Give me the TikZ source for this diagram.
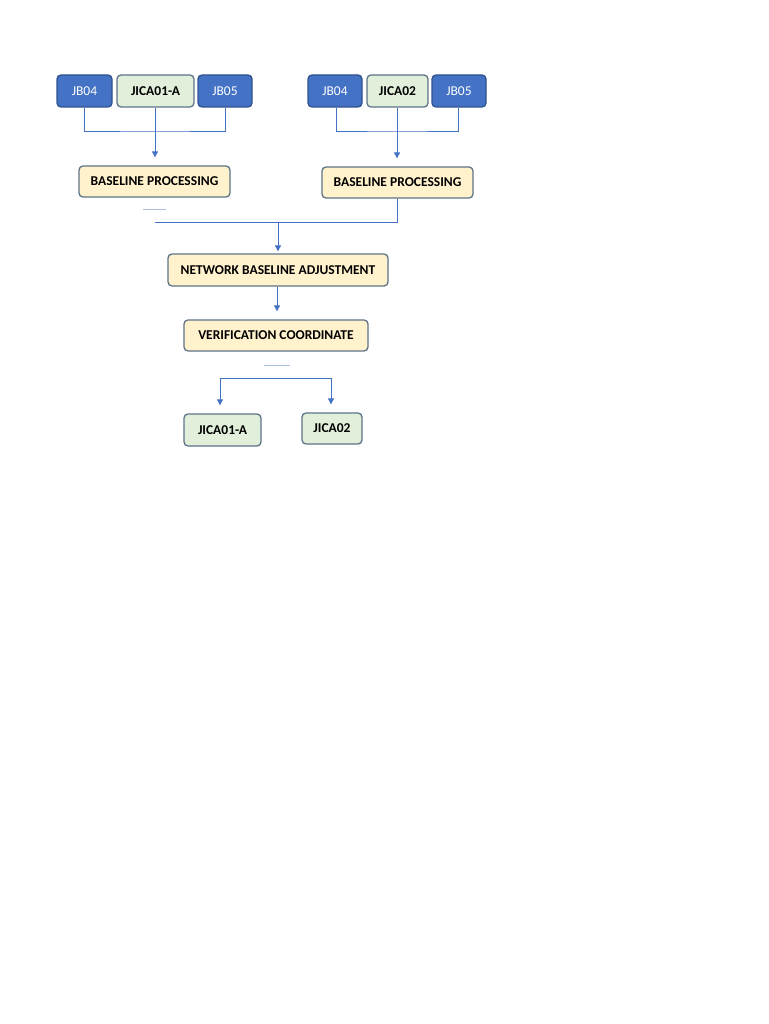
\documentclass[tikz,border=0pt]{standalone}
\usepackage{fontspec}
\setmainfont{Carlito}
\usetikzlibrary{arrows.meta}
\definecolor{bluefill}{HTML}{4472C4}
\definecolor{blueedge}{HTML}{2F528F}
\definecolor{greenfill}{HTML}{E2EFDA}
\definecolor{yellowfill}{HTML}{FFF2CC}
\definecolor{grayedge}{HTML}{5E7489}
\definecolor{linkc}{HTML}{4472C4}
\tikzset{
  box/.style={rectangle, rounded corners=4pt, line width=1.3pt, inner sep=0pt, font=\fontsize{13.5}{15}\selectfont},
  bluebox/.style={box, fill=bluefill, draw=blueedge, text=white, minimum height=32pt},
  greenbox/.style={box, fill=greenfill, draw=grayedge, font=\fontsize{13.5}{15}\selectfont\bfseries, minimum height=32pt},
  yellowbox/.style={box, fill=yellowfill, draw=grayedge, font=\fontsize{13.5}{15}\selectfont\bfseries, minimum height=31pt},
  link/.style={draw=linkc, line width=0.9pt},
  arr/.style={link, -{Triangle[width=6pt,length=6pt]}},
  faint/.style={draw=linkc!45, line width=0.9pt}
}
\begin{document}
\begin{tikzpicture}[x=1pt,y=-1pt]
\useasboundingbox (0,0) rectangle (768,1024);
\fill[white] (0,0) rectangle (768,1024);
% top-left group
\node[bluebox, minimum width=55pt] (lj4) at (84.5,91) {JB04};
\node[greenbox, minimum width=77pt] (lja) at (155.5,91) {JICA01-A};
\node[bluebox, minimum width=54pt] (lj5) at (225,91) {JB05};
% top-right group
\node[bluebox, minimum width=54pt] (rj4) at (335,91) {JB04};
\node[greenbox, minimum width=61pt] (rja) at (397.5,91) {JICA02};
\node[bluebox, minimum width=54pt] (rj5) at (459,91) {JB05};
% baseline processing
\node[yellowbox, minimum width=151pt] (bpl) at (154.5,181.5) {BASELINE PROCESSING};
\node[yellowbox, minimum width=151pt] (bpr) at (397.5,182.5) {BASELINE PROCESSING};
% network
\node[yellowbox, minimum width=220pt, minimum height=32pt] (nba) at (278,270) {NETWORK BASELINE ADJUSTMENT};
\node[yellowbox, minimum width=184pt] (vc) at (276,335.5) {VERIFICATION COORDINATE};
% outputs
\node[greenbox, minimum width=77pt] (o1) at (222.5,430) {JICA01-A};
\node[greenbox, minimum width=60pt, minimum height=31pt] (o2) at (332,428.5) {JICA02};
% coordinates
\coordinate (lbar) at (155,131);
\coordinate (rbar) at (397,131);
\coordinate (mid) at (278,222);
% connectors top-left
\draw[link] (lj4.south -| 84,0) |- (lbar) -| (lj5.south -| 225,0);
\draw[arr, shorten >=8pt] (lja.south -| lbar) -- (bpl.north -| lbar);
% connectors top-right
\draw[link] (rj4.south -| 336,0) |- (rbar) -| (rj5.south -| 458,0);
\draw[arr, shorten >=8pt] (rja.south -| rbar) -- (bpr.north -| rbar);
% merge
\draw[faint] (143,209) -- (166,209);
\draw[link] (bpr.south -| 397,0) |- (155,222);
\draw[arr, shorten >=2pt] (mid) -- (nba.north -| mid);
\draw[arr, shorten >=8pt] (nba.south -| 277,0) -- (vc.north -| 277,0);
% split
\draw[faint] (264,365) -- (290,365);
\draw[link] (220,378) -- (331,378);
\draw[arr, shorten >=8pt] (220,378) -- (o1.north -| 220,0);
\draw[arr, shorten >=8pt] (331,378) -- (o2.north -| 331,0);
\end{tikzpicture}
\end{document}
